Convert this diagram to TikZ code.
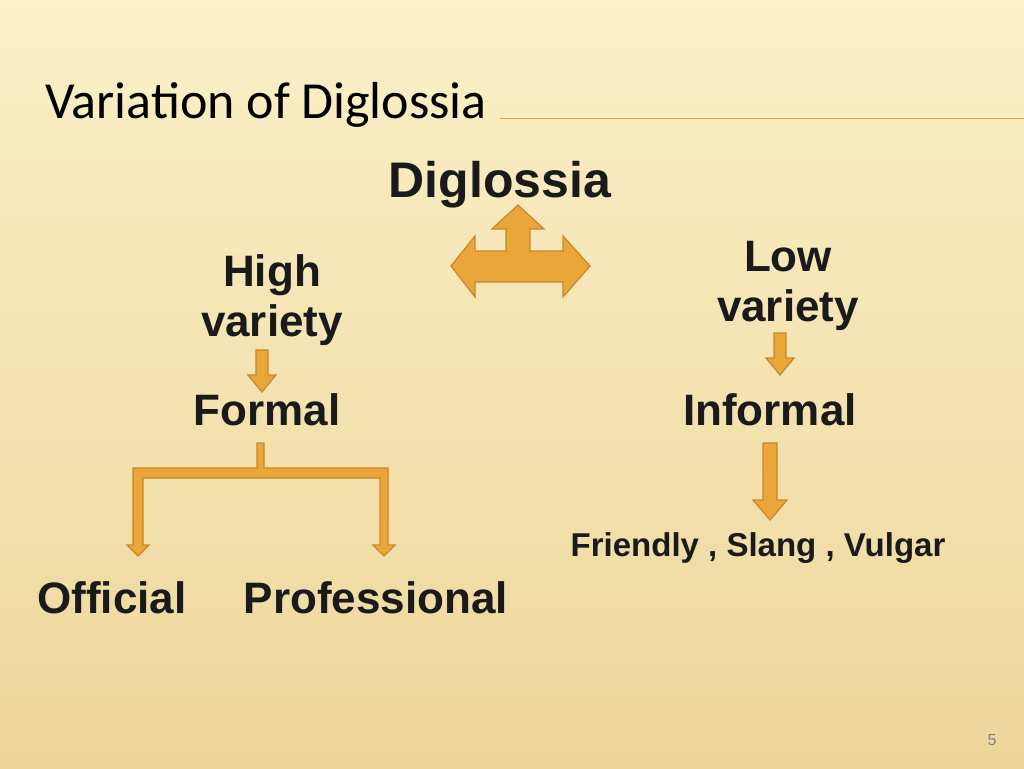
\documentclass[tikz,border=0pt]{standalone}
\usepackage{fontspec}
\setmainfont{Liberation Sans}
\newfontfamily\titlefont{Carlito}
\definecolor{bgtop}{HTML}{FBF0C8}
\definecolor{bgbot}{HTML}{EDD69A}
\definecolor{arr}{HTML}{EBA63A}
\definecolor{arrd}{HTML}{C8862A}
\definecolor{txt}{HTML}{1A1A1A}
\begin{document}
\begin{tikzpicture}[x=1pt,y=-1pt,
  lbl/.style={font=\fontsize{44}{50}\bfseries\selectfont,text=txt,align=center,inner sep=0pt},
  arrshape/.style={fill=arr,draw=arrd,line width=1.2pt,line join=miter}]
\useasboundingbox (0,0) rectangle (1024,768);
\shade[top color=bgtop,bottom color=bgbot] (0,0) rectangle (1024,768);
\node[font=\titlefont\fontsize{52}{56}\selectfont,anchor=base west,inner sep=0pt] (title) at (45,118) {Variation of Diglossia};
\coordinate (ul) at (500,118);
\coordinate (ur) at (1024,118);
\draw[arr,line width=1pt] (ul) -- (ur);
\node[lbl,font=\fontsize{50}{56}\bfseries\selectfont] (dig) at (500,185) {Diglossia};
\node[lbl] (high) at (272,300) {High\\variety};
\node[lbl] (low) at (788,286) {Low\\variety};
\node[lbl] (formal) at (267,410) {Formal};
\node[lbl] (informal) at (770,410) {Informal};
\node[font=\fontsize{33}{36}\bfseries\selectfont,text=txt,inner sep=0pt] (fr) at (758,548) {Friendly , Slang , Vulgar};
\node[lbl] (off) at (112,598) {Official};
\node[lbl] (prof) at (376,598) {Professional};
\node[text=gray,font=\fontsize{16}{18}\selectfont] (pg) at (992,740) {5};
% tri arrow
\draw[arrshape] (518,205) -- (544,229) -- (530,229) -- (530,251) -- (563,251) -- (563,236) -- (590,266) -- (563,297) -- (563,282)
  -- (475,282) -- (475,297) -- (451,266) -- (475,236) -- (475,251) -- (506,251) -- (506,229) -- (492,229) -- cycle;
% small arrows
\draw[arrshape] (256,350) -- (268,350) -- (268,375) -- (276,375) -- (262,392) -- (248,375) -- (256,375) -- cycle;
\draw[arrshape] (774,333) -- (786,333) -- (786,358) -- (794,358) -- (780,375) -- (766,358) -- (774,358) -- cycle;
\draw[arrshape] (763,443) -- (777,443) -- (777,500) -- (787,500) -- (770,520) -- (753,500) -- (763,500) -- cycle;
% bracket
\draw[arrshape] (257,443) -- (264,443) -- (264,468) -- (388,468) -- (388,545) -- (395,545) -- (384,556) -- (373,545) -- (380,545) -- (380,478)
  -- (143,478) -- (143,545) -- (149,545) -- (138,556) -- (127,545) -- (133,545) -- (133,468) -- (257,468) -- cycle;
\end{tikzpicture}
\end{document}
